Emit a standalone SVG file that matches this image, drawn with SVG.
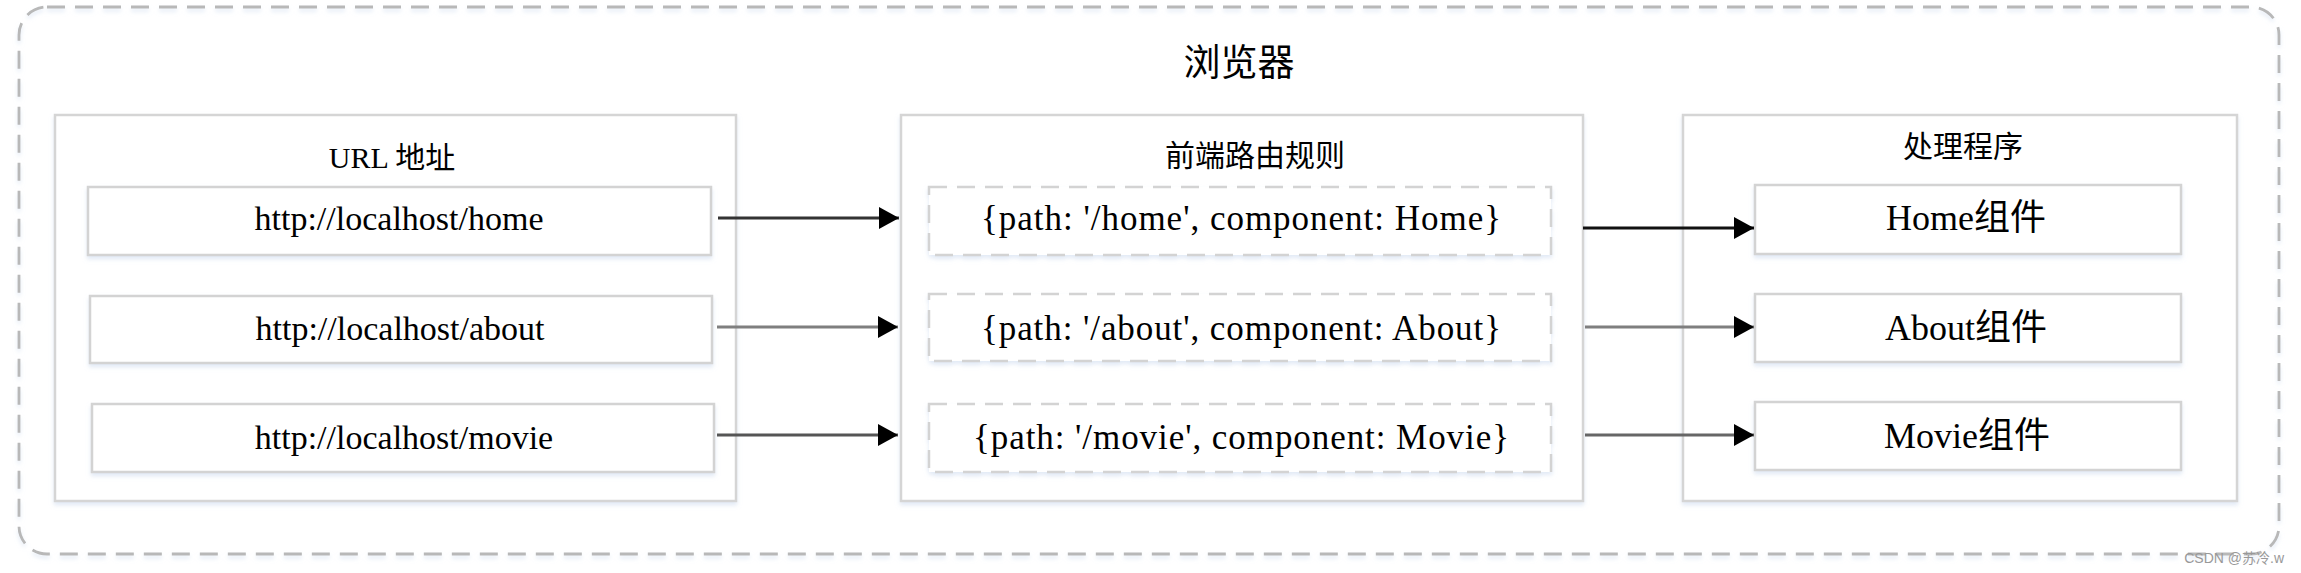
<svg xmlns="http://www.w3.org/2000/svg" width="2301" height="573" viewBox="0 0 2301 573">
<style>
.t{font-family:"Liberation Serif","Noto Sans CJK SC",serif;fill:#000;text-anchor:middle}
.cjk{font-family:"Liberation Serif","Noto Sans CJK SC",sans-serif;fill:#000;text-anchor:middle}
.grp{fill:#fff;stroke:#d5d5d5;stroke-width:2.5;filter:url(#sh)}
.box{fill:#fff;stroke:#d3d3d3;stroke-width:2.5;filter:url(#sh)}
.dbox{fill:#fff;stroke:#d3d3d3;stroke-width:2.5;stroke-dasharray:18 10;filter:url(#sh)}
.c{fill:none;stroke-width:3}
</style>
<defs>
<filter id="sh" x="-5%" y="-10%" width="110%" height="130%">
<feDropShadow dx="0" dy="3" stdDeviation="2" flood-color="#cfdcef" flood-opacity="0.6"/>
</filter>
<marker id="ah" viewBox="0 0 20 22" refX="20" refY="11" markerWidth="20" markerHeight="22" markerUnits="userSpaceOnUse" orient="auto">
<path d="M0,0 L20,11 L0,22 Z" fill="#000"/>
</marker>
</defs>
<rect width="2301" height="573" fill="#fff"/>
<g id="browser">
<rect x="19" y="7" width="2260" height="547" rx="28" ry="28" fill="none" stroke="#b8b8b8" stroke-width="2.8" stroke-dasharray="18 10" filter="url(#sh)"/>
<text class="cjk" x="1239" y="76" font-size="37">浏览器</text>
</g>
<g id="url-group">
<rect class="grp" x="55" y="115" width="681" height="386"/>
<text class="t" x="392" y="168" font-size="30">URL 地址</text>
</g>
<g id="url-home">
<rect class="box" x="88" y="187" width="623" height="68"/>
<text class="t" x="399" y="230" font-size="34">http://localhost/home</text>
</g>
<g id="url-about">
<rect class="box" x="90" y="296" width="622" height="67"/>
<text class="t" x="400" y="340" font-size="34">http://localhost/about</text>
</g>
<g id="url-movie">
<rect class="box" x="92" y="404" width="622" height="68"/>
<text class="t" x="404" y="449" font-size="34">http://localhost/movie</text>
</g>
<g id="rule-group">
<rect class="grp" x="901" y="115" width="682" height="386"/>
<text class="t" x="1255" y="166" font-size="30">前端路由规则</text>
</g>
<g id="rule-home">
<rect class="dbox" x="929" y="187" width="622" height="68"/>
<text class="t" x="1241" y="230" font-size="35" textLength="520" lengthAdjust="spacing">{path: '/home', component: Home}</text>
</g>
<g id="rule-about">
<rect class="dbox" x="929" y="294" width="622" height="67"/>
<text class="t" x="1241" y="340" font-size="35" textLength="520" lengthAdjust="spacing">{path: '/about', component: About}</text>
</g>
<g id="rule-movie">
<rect class="dbox" x="929" y="404" width="622" height="68"/>
<text class="t" x="1241" y="449" font-size="35" textLength="536" lengthAdjust="spacing">{path: '/movie', component: Movie}</text>
</g>
<g id="handler-group">
<rect class="grp" x="1683" y="115" width="554" height="386"/>
<text class="t" x="1963" y="157" font-size="30">处理程序</text>
</g>
<g id="comp-home">
<rect class="box" x="1755" y="185" width="426" height="69"/>
<text class="t" x="1966" y="230" font-size="36">Home组件</text>
</g>
<g id="comp-about">
<rect class="box" x="1755" y="294" width="426" height="68"/>
<text class="t" x="1966" y="340" font-size="36">About组件</text>
</g>
<g id="comp-movie">
<rect class="box" x="1755" y="402" width="426" height="68"/>
<text class="t" x="1967" y="448" font-size="36">Movie组件</text>
</g>
<g id="connectors">
<line class="c" x1="718" y1="218" x2="899" y2="218" stroke="#333" marker-end="url(#ah)"/>
<line class="c" x1="717" y1="327" x2="898" y2="327" stroke="#7f7f7f" marker-end="url(#ah)"/>
<line class="c" x1="717" y1="435" x2="898" y2="435" stroke="#555" marker-end="url(#ah)"/>
<line class="c" x1="1583" y1="228" x2="1754" y2="228" stroke="#111" marker-end="url(#ah)"/>
<line class="c" x1="1585" y1="327" x2="1754" y2="327" stroke="#7f7f7f" marker-end="url(#ah)"/>
<line class="c" x1="1585" y1="435" x2="1754" y2="435" stroke="#666" marker-end="url(#ah)"/>
</g>
<text x="2284" y="563" font-family="'Liberation Sans','Noto Sans CJK SC',sans-serif" font-size="14" fill="#999" text-anchor="end">CSDN @苏冷.w</text>
</svg>
